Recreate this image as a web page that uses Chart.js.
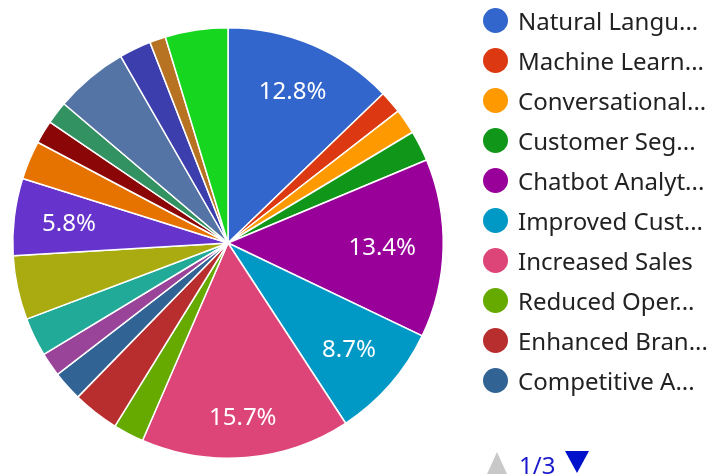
<!DOCTYPE html>
<html>
<head>
<meta charset="utf-8">
<script src="https://cdn.jsdelivr.net/npm/chart.js@4"></script>
<style>
  body { margin: 0; background: #fff; font-family: "Noto Sans", sans-serif; }
  #wrap { position: relative; width: 713px; height: 475px; overflow: hidden; }
  #chart { position: absolute; left: 0; top: 0; }
  #legend { position: absolute; left: 483px; top: 0; width: 230px; }
  .row { position: absolute; left: 0; height: 40px; display: flex; align-items: center; white-space: nowrap; }
  .dot { width: 25px; height: 25px; border-radius: 50%; margin-right: 10px; flex: none; }
  .txt { font-size: 24px; color: #222; }
  #pager { position: absolute; left: 487px; top: 451px; height: 24px; display: flex; align-items: flex-start; }
  .up { width: 0; height: 0; border-left: 10px solid transparent; border-right: 10px solid transparent; border-bottom: 22px solid #c8c8c8; margin-top: 1px; }
  .down { width: 0; height: 0; border-left: 12.5px solid transparent; border-right: 12.5px solid transparent; border-top: 22px solid #0011cc; }
  .page { font-size: 24px; line-height: 24px; color: #1a1acc; margin: 2px 10px 0 12px; }
</style>
</head>
<body>
<div id="wrap">
  <canvas id="chart" width="713" height="475"></canvas>
  <div id="legend"></div>
  <div id="pager"><span class="up"></span><span class="page">1/3</span><span class="down"></span></div>
</div>
<script>
var categories = [
    'Natural Language Processing', 'Machine Learning Algorithms', 'Conversational AI',
    'Customer Segmentation', 'Chatbot Analytics', 'Improved Customer Experience',
    'Increased Sales', 'Reduced Operational Costs', 'Enhanced Brand Reputation',
    'Competitive Advantage', 'Sentiment Analysis', 'Personalized Recommendations',
    'Lead Generation', 'Customer Retention', 'Voice Assistants', 'Data Privacy',
    'Predictive Analytics', 'Omnichannel Support', 'Process Automation',
    'Employee Productivity', 'Market Insights'
];
var shares = [12.8, 1.7, 1.9, 2.3, 13.4, 8.7, 15.7, 2.3, 3.5, 2.25, 1.8, 2.9, 4.8, 5.8, 2.9, 1.75, 1.7, 5.5, 2.4, 1.2, 4.7];
var colors = [
    '#3366cc', '#dc3912', '#ff9900', '#109618', '#990099', '#0099c6', '#dd4477',
    '#66aa00', '#b82e2e', '#316395', '#994499', '#22aa99', '#aaaa11', '#6633cc',
    '#e67300', '#8b0707', '#329262', '#5574a6', '#3b3eac', '#b77322', '#16d620'
];
var legendShort = [
    'Natural Langu...', 'Machine Learn...', 'Conversational...', 'Customer Seg...',
    'Chatbot Analyt...', 'Improved Cust...', 'Increased Sales', 'Reduced Oper...',
    'Enhanced Bran...', 'Competitive A...'
];
var labelThreshold = 5.75;

function buildLegend() {
    const legend = document.getElementById('legend');
    legendShort.forEach((name, i) => {
        const row = document.createElement('div');
        row.className = 'row';
        row.style.top = (i * 40) + 'px';
        const dot = document.createElement('span');
        dot.className = 'dot';
        dot.style.background = colors[i];
        const txt = document.createElement('span');
        txt.className = 'txt';
        txt.innerText = name;
        row.append(dot, txt);
        legend.append(row);
    });
}

const sliceLabels = {
    id: 'sliceLabels',
    afterDatasetsDraw(chart) {
        const ctx = chart.ctx;
        const data = chart.data.datasets[0].data;
        const total = data.reduce((a, b) => a + b, 0);
        ctx.save();
        ctx.font = '24px "Noto Sans"';
        ctx.fillStyle = '#fff';
        ctx.textAlign = 'center';
        ctx.textBaseline = 'middle';
        chart.getDatasetMeta(0).data.forEach((arc, i) => {
            const pct = data[i] / total * 100;
            if (pct < labelThreshold) return;
            const text = pct.toFixed(1) + '%';
            const mid = (arc.startAngle + arc.endAngle) / 2;
            const dx = Math.cos(mid), dy = Math.sin(mid);
            const hw = ctx.measureText(text).width / 2, hh = 11;
            const r = arc.outerRadius * 0.875 - (hw * Math.abs(dx) + hh * Math.abs(dy));
            ctx.fillText(text, arc.x + dx * r, arc.y + dy * r + 1);
        });
        ctx.restore();
    }
};

buildLegend();

new Chart(document.getElementById('chart'), {
    type: 'pie',
    data: {
        labels: categories,
        datasets: [{
            data: shares,
            backgroundColor: colors,
            borderColor: '#ffffff',
            borderWidth: 1.5
        }]
    },
    options: {
        responsive: false,
        animation: false,
        layout: { padding: { top: 27, bottom: 16, left: 11, right: 268 } },
        plugins: {
            legend: { display: false },
            tooltip: { enabled: false }
        }
    },
    plugins: [sliceLabels]
});
</script>
</body>
</html>
